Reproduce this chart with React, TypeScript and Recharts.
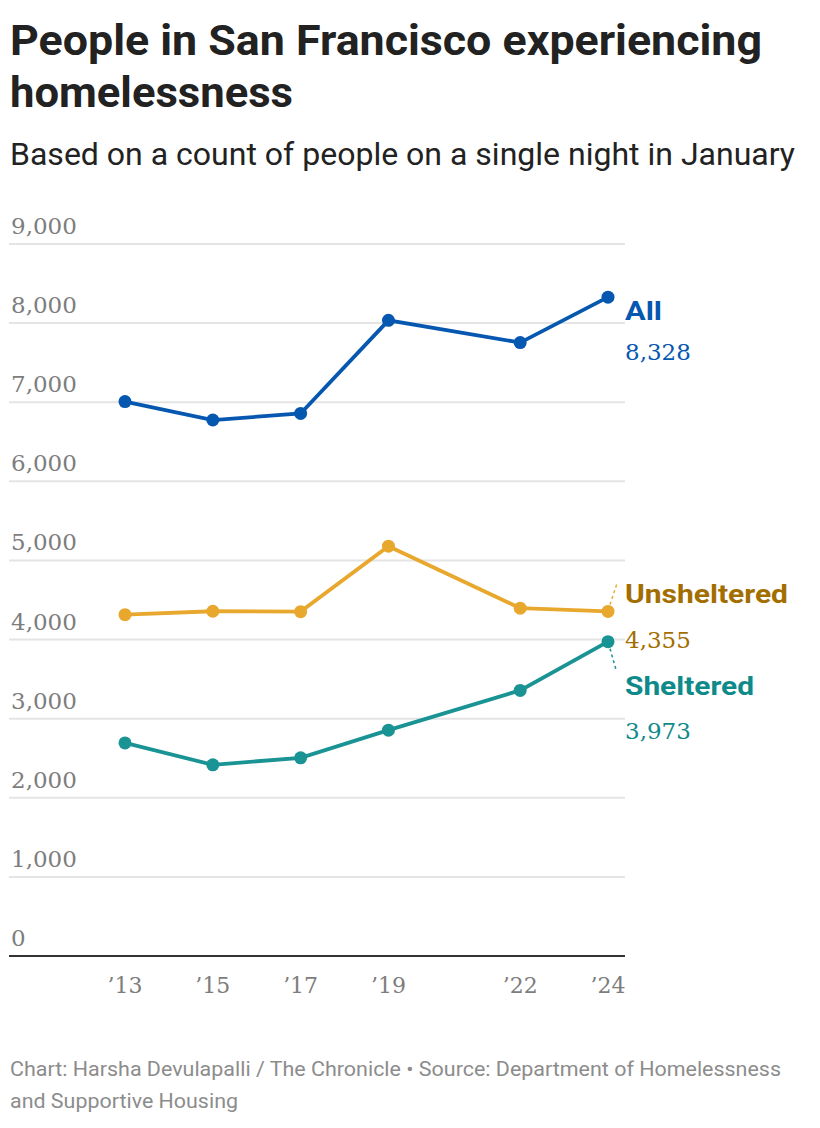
import React from "react";
import { LineChart, Line, XAxis, YAxis, CartesianGrid, LabelList } from "recharts";

// Point-in-time counts, one night in January
const years = [2013, 2015, 2017, 2019, 2022, 2024];
const allPeople = [7008, 6775, 6858, 8035, 7754, 8328];
const unshelteredPeople = [4315, 4358, 4353, 5180, 4397, 4355];
const shelteredPeople = [2693, 2417, 2505, 2855, 3357, 3973];
const yTicks = [0, 1000, 2000, 3000, 4000, 5000, 6000, 7000, 8000, 9000];

const seriesNames = { all: "All", unsheltered: "Unsheltered", sheltered: "Sheltered" };

const data = years.map((year, i) => ({
  year,
  all: allPeople[i],
  unsheltered: unshelteredPeople[i],
  sheltered: shelteredPeople[i],
}));

const BLUE = "#0657b0";
const GOLD_LINE = "#e8a82e";
const GOLD_TEXT = "#a36e00";
const TEAL_LINE = "#1a9394";
const TEAL_TEXT = "#0e8a8a";

const SANS = "Roboto, 'Noto Sans', sans-serif";
const SERIF = "'DejaVu Serif', serif";

const fmt = (n: number) => String(n).replace(/\B(?=(\d{3})+(?!\d))/g, ",");
const lastIndex = years.length - 1;

const YTick = (props: any) => {
  const { y, payload } = props;
  return (
    <text x={3} y={y - 10} fill="#7d7d7d" fontFamily={SERIF} fontSize={23} textAnchor="start">
      {fmt(payload.value)}
    </text>
  );
};

const XTick = (props: any) => {
  const { x, y, payload } = props;
  return (
    <text x={x} y={y + 37} fill="#7d7d7d" fontFamily={SERIF} fontSize={22} textAnchor="middle">
      {"\u2019" + String(payload.value).slice(2)}
    </text>
  );
};

const makeEndLabel =
  (key: "all" | "unsheltered" | "sheltered") =>
  (props: any) => {
    const { x, y, index, value } = props;
    if (index !== lastIndex) return null;
    const name = seriesNames[key];
    if (key === "all") {
      return (
        <g>
          <text x={x + 17} y={y + 23} fill={BLUE} fontFamily={SANS} fontWeight={700} fontSize={26} textLength={37} lengthAdjust="spacingAndGlyphs">
            {name}
          </text>
          <text x={x + 17} y={y + 63} fill={BLUE} fontFamily={SERIF} fontSize={23}>
            {fmt(value)}
          </text>
        </g>
      );
    }
    if (key === "unsheltered") {
      return (
        <g>
          <line x1={x + 2} y1={y - 7} x2={x + 9} y2={y - 28} stroke={GOLD_LINE} strokeWidth={1.5} strokeDasharray="3 3" />
          <text x={x + 17} y={y - 8} fill={GOLD_TEXT} fontFamily={SANS} fontWeight={700} fontSize={26} textLength={163} lengthAdjust="spacingAndGlyphs">
            {name}
          </text>
          <text x={x + 17} y={y + 37} fill={GOLD_TEXT} fontFamily={SERIF} fontSize={23}>
            {fmt(value)}
          </text>
        </g>
      );
    }
    return (
      <g>
        <line x1={x + 2} y1={y + 7} x2={x + 8} y2={y + 28} stroke={TEAL_LINE} strokeWidth={1.5} strokeDasharray="3 3" />
        <text x={x + 17} y={y + 53} fill={TEAL_TEXT} fontFamily={SANS} fontWeight={700} fontSize={26} textLength={129} lengthAdjust="spacingAndGlyphs">
          {name}
        </text>
        <text x={x + 17} y={y + 97} fill={TEAL_TEXT} fontFamily={SERIF} fontSize={23}>
          {fmt(value)}
        </text>
      </g>
    );
  };

export default function App() {
  return (
    <div style={{ position: "relative", width: 804, height: 1112, background: "#fff" }}>
      <svg width={804} height={180} style={{ position: "absolute", left: 0, top: 0 }}>
        <text x={2} y={47} fill="#222" fontFamily={SANS} fontWeight={700} fontSize={42} textLength={752} lengthAdjust="spacingAndGlyphs">
          People in San Francisco experiencing
        </text>
        <text x={2} y={98.7} fill="#222" fontFamily={SANS} fontWeight={700} fontSize={42} textLength={283} lengthAdjust="spacingAndGlyphs">
          homelessness
        </text>
        <text x={2} y={157} fill="#222" fontFamily={SANS} fontWeight={400} fontSize={32} textLength={785} lengthAdjust="spacingAndGlyphs">
          Based on a count of people on a single night in January
        </text>
      </svg>

      <div style={{ position: "absolute", left: 0, top: 192 }}>
        <LineChart width={804} height={806} data={data} margin={{ top: 44, right: 187, left: 1, bottom: 10 }}>
          <CartesianGrid vertical={false} stroke="#e4e4e4" strokeWidth={2} />
          <XAxis
            dataKey="year"
            type="number"
            domain={[2013, 2024]}
            ticks={years}
            padding={{ left: 116, right: 17 }}
            height={40}
            axisLine={{ stroke: "#333", strokeWidth: 2 }}
            tickLine={false}
            tickSize={0}
            tickMargin={0}
            tick={<XTick />}
            interval={0}
          />
          <YAxis
            mirror
            width={60}
            domain={[0, 9000]}
            ticks={yTicks}
            axisLine={false}
            tickLine={false}
            tick={<YTick />}
            interval={0}
          />
          <Line dataKey="all" stroke={BLUE} strokeWidth={3.8} dot={{ r: 6.5, fill: BLUE, stroke: "none" }} activeDot={false} isAnimationActive={false}>
            <LabelList dataKey="all" content={makeEndLabel("all")} />
          </Line>
          <Line dataKey="unsheltered" stroke={GOLD_LINE} strokeWidth={3.8} dot={{ r: 6.5, fill: GOLD_LINE, stroke: "none" }} activeDot={false} isAnimationActive={false}>
            <LabelList dataKey="unsheltered" content={makeEndLabel("unsheltered")} />
          </Line>
          <Line dataKey="sheltered" stroke={TEAL_LINE} strokeWidth={3.8} dot={{ r: 6.5, fill: TEAL_LINE, stroke: "none" }} activeDot={false} isAnimationActive={false}>
            <LabelList dataKey="sheltered" content={makeEndLabel("sheltered")} />
          </Line>
        </LineChart>
      </div>

      <svg width={804} height={80} style={{ position: "absolute", left: 0, top: 1032 }}>
        <text x={2} y={36} fill="#8c8c8c" fontFamily={SANS} fontSize={21} textLength={771} lengthAdjust="spacingAndGlyphs">
          Chart: Harsha Devulapalli / The Chronicle {"\u2022"} Source: Department of Homelessness
        </text>
        <text x={2} y={68} fill="#8c8c8c" fontFamily={SANS} fontSize={21} textLength={228} lengthAdjust="spacingAndGlyphs">
          and Supportive Housing
        </text>
      </svg>
    </div>
  );
}
